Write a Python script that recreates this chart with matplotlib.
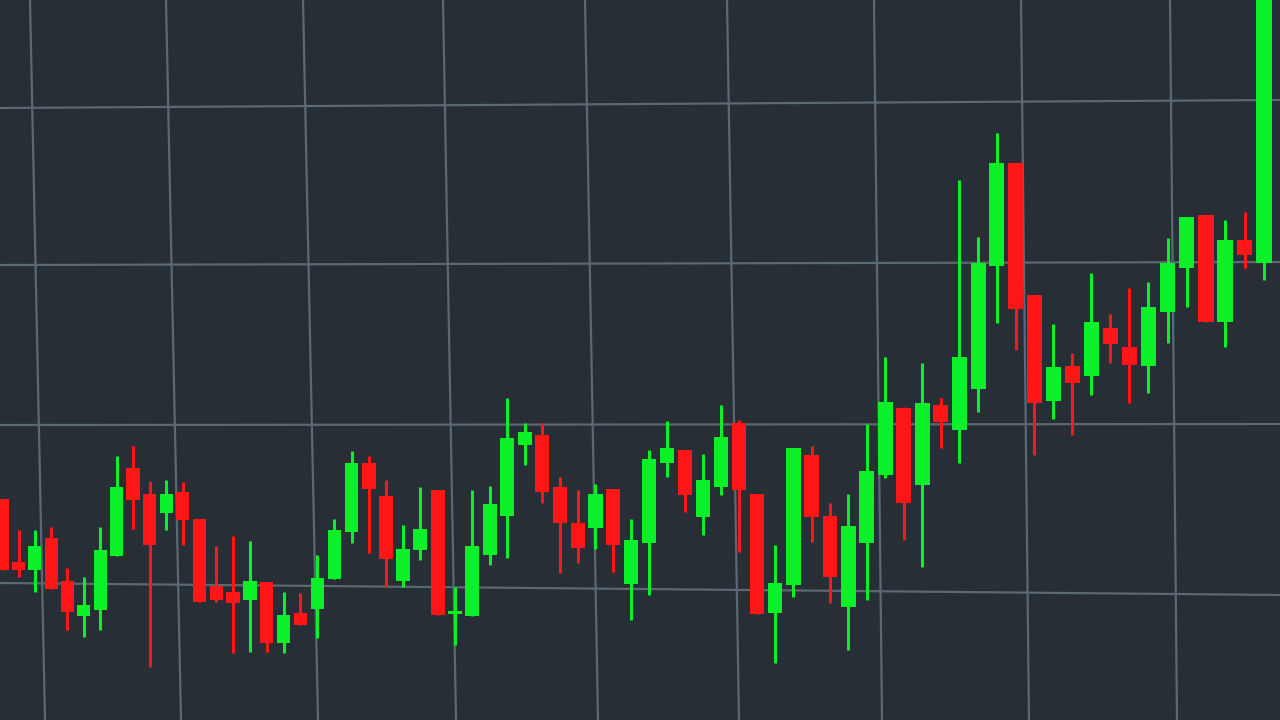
import numpy as np
import matplotlib
matplotlib.use('Agg')
import matplotlib.pyplot as plt

# candle data (arbitrary price units)
opens = [221, 158, 150, 182, 139, 104, 110, 164, 252, 226, 207, 228, 201, 134, 128, 120,
         138, 77, 107, 111, 141, 188, 257, 224, 139, 170, 230, 106, 104, 165, 204, 275,
         285, 233, 197, 192, 231, 136, 177, 257, 270, 203, 233, 297, 226, 107, 135, 265,
         204, 113, 177, 245, 312, 235, 315, 290, 331, 454, 557, 425, 319, 354, 344, 392,
         373, 354, 408, 452, 505, 398, 480, 457]
closes = [150, 150, 174, 131, 108, 115, 170, 233, 220, 175, 226, 200, 118, 120, 117, 139,
          77, 105, 95, 142, 190, 257, 231, 161, 171, 191, 105, 109, 174, 216, 282, 288,
          228, 197, 172, 226, 175, 180, 261, 272, 225, 240, 283, 230, 106, 137, 272, 203,
          143, 194, 249, 318, 217, 317, 298, 363, 457, 557, 411, 317, 353, 337, 398, 376,
          355, 413, 457, 503, 398, 480, 465, 740]
highs = [221, 190, 190, 193, 152, 143, 193, 264, 274, 239, 240, 238, 201, 174, 184, 179,
         138, 128, 127, 165, 201, 269, 264, 240, 195, 233, 230, 133, 230, 234, 322, 297,
         297, 243, 230, 236, 231, 201, 270, 299, 270, 266, 315, 300, 226, 175, 272, 274,
         217, 226, 296, 363, 313, 357, 322, 540, 483, 587, 557, 425, 396, 367, 447, 406,
         432, 438, 482, 503, 505, 500, 508, 760]
lows = [150, 143, 128, 131, 90, 83, 90, 164, 191, 53, 190, 175, 118, 118, 67, 68,
        68, 67, 95, 82, 141, 177, 167, 133, 133, 160, 105, 75, 104, 155, 162, 255,
        217, 147, 157, 171, 148, 100, 125, 243, 208, 185, 225, 168, 106, 57, 123, 178,
        117, 70, 120, 242, 180, 153, 272, 257, 308, 397, 370, 265, 301, 285, 325, 357,
        317, 327, 377, 413, 398, 373, 452, 440]

bg = '#272e36'
up_col = '#0cf02a'
down_col = '#ff1616'
grid_col = '#5b6973'

x = np.arange(len(opens))
o = np.array(opens)
c = np.array(closes)
up = c >= o
colors = np.where(up, up_col, down_col)

# slight perspective: candles get wider apart to the right
k = 0.001418
def fwd(v):
    v = np.asarray(v, dtype=float)
    return v + k * v * v
def inv(u):
    u = np.asarray(u, dtype=float)
    return (-1 + np.sqrt(np.clip(1 + 4 * k * u, 1e-9, None))) / (2 * k)

fig = plt.figure(figsize=(12.8, 7.2), dpi=100, facecolor=bg)
ax = fig.add_axes([0, 0, 1, 1])
ax.set_facecolor(bg)
ax.set_xscale('function', functions=(fwd, inv))

# tilted grid (photo perspective), pixel endpoints
vgrid = [(30, 45), (166, 181), (303, 318), (443, 456), (585, 598),
         (727, 739), (874, 882), (1021, 1029), (1170, 1177)]
hgrid = [(108, 100), (265, 262), (425, 424), (583, 595)]
for top, bot in vgrid:
    ax.plot([top / 1280, bot / 1280], [1, 0], color=grid_col, lw=1.6,
            transform=ax.transAxes, zorder=1)
for left, right in hgrid:
    ax.plot([0, 1], [1 - left / 720, 1 - right / 720], color=grid_col, lw=1.6,
            transform=ax.transAxes, zorder=1)

# wicks and bodies
ax.vlines(x, lows, highs, colors=colors, lw=2.2, zorder=2)
ax.bar(x, c - o, bottom=o, width=0.8, color=colors, linewidth=0, zorder=3)

ax.set_xlim(-0.155, 71.83)
ax.set_ylim(0, 720)
ax.axis('off')

fig.savefig('out.png', dpi=100, facecolor=bg)
